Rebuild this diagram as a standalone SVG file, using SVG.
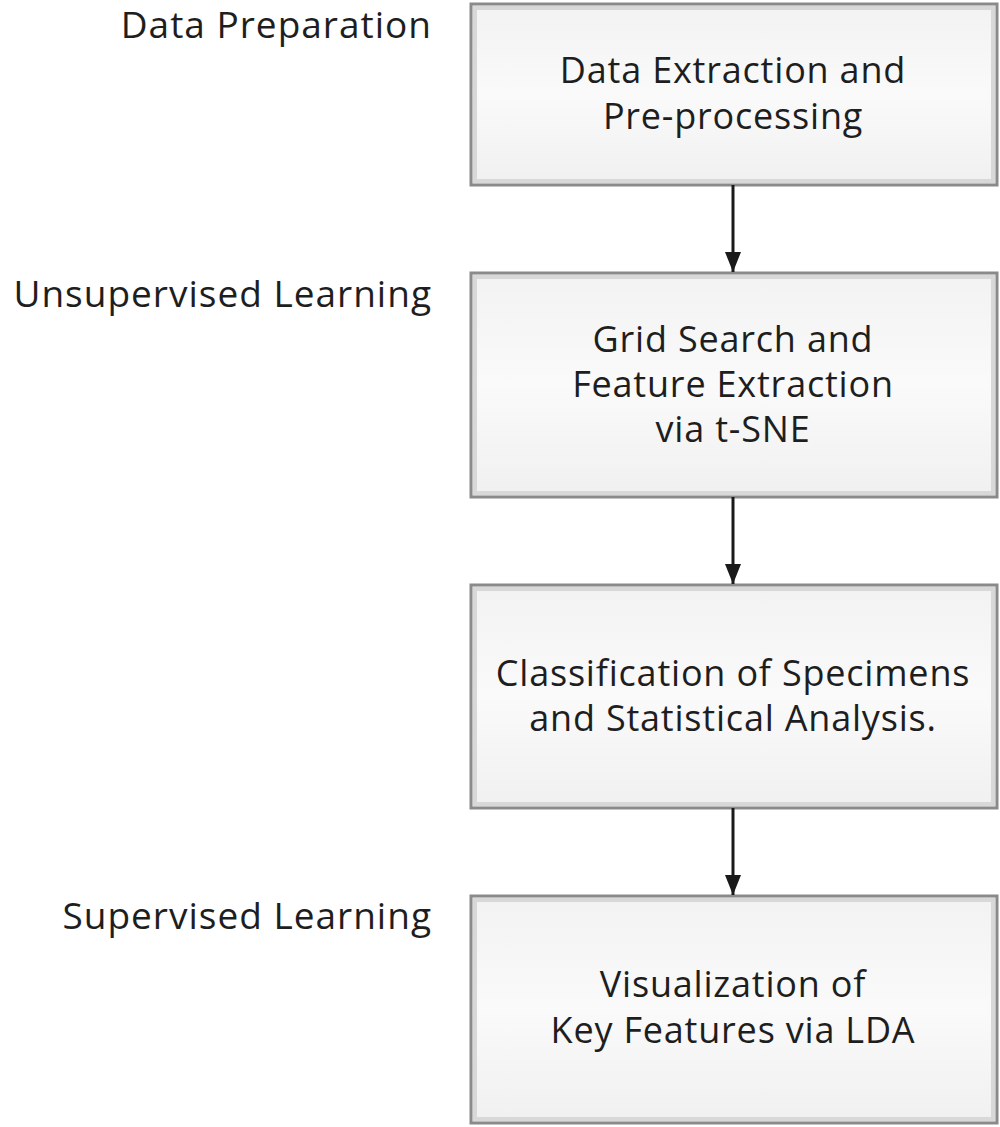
<svg xmlns="http://www.w3.org/2000/svg" width="1000" height="1127" viewBox="0 0 1000 1127">
<defs>
<linearGradient id="g" x1="0" y1="0" x2="0" y2="1"><stop offset="0" stop-color="#f2f2f2"/><stop offset="0.5" stop-color="#fafafa"/><stop offset="1" stop-color="#f0f0f0"/></linearGradient>
<marker id="ah" markerWidth="22" markerHeight="22" refX="20" refY="11" orient="auto" markerUnits="userSpaceOnUse" viewBox="0 0 22 22"><path d="M0,3 L20,11 L0,19 z" fill="#1a1a1a"/></marker>
</defs>
<style>
.box{fill:url(#g);stroke:#8a8a8a;stroke-width:3}
.inner{fill:none;stroke:#d8d8d8;stroke-width:4}
.t{font-family:"Open Sans","DejaVu Sans",sans-serif;font-size:36px;letter-spacing:0.8px;fill:#1e1e1e;text-anchor:middle}
.l{font-family:"Open Sans","DejaVu Sans",sans-serif;font-size:37px;letter-spacing:1px;fill:#1e1e1e;text-anchor:end}
.c{stroke:#1a1a1a;stroke-width:3;fill:none;marker-end:url(#ah)}
</style>
<rect width="1000" height="1127" fill="#fff"/>
<g id="labels">
<text class="l" x="432" y="38">Data Preparation</text>
<text class="l" x="432" y="307">Unsupervised Learning</text>
<text class="l" x="432" y="929">Supervised Learning</text>
</g>
<g id="n1"><rect class="box" x="471" y="4" width="526" height="181"/><rect class="inner" x="475" y="8" width="518" height="173"/>
<text class="t" x="733" y="83">Data Extraction and</text><text class="t" x="733" y="129">Pre-processing</text></g>
<g id="n2"><rect class="box" x="471" y="273" width="526" height="224"/><rect class="inner" x="475" y="277" width="518" height="216"/>
<text class="t" x="733" y="352">Grid Search and</text><text class="t" x="733" y="397">Feature Extraction</text><text class="t" x="733" y="442">via t-SNE</text></g>
<g id="n3"><rect class="box" x="471" y="585" width="526" height="223"/><rect class="inner" x="475" y="589" width="518" height="215"/>
<text class="t" x="733" y="686">Classification of Specimens</text><text class="t" x="733" y="731">and Statistical Analysis.</text></g>
<g id="n4"><rect class="box" x="471" y="896" width="526" height="227"/><rect class="inner" x="475" y="900" width="518" height="219"/>
<text class="t" x="733" y="997">Visualization of</text><text class="t" x="733" y="1043">Key Features via LDA</text></g>
<g id="connectors">
<line class="c" x1="733" y1="185" x2="733" y2="272"/>
<line class="c" x1="733" y1="497" x2="733" y2="584"/>
<line class="c" x1="733" y1="808" x2="733" y2="895"/>
</g>
</svg>
